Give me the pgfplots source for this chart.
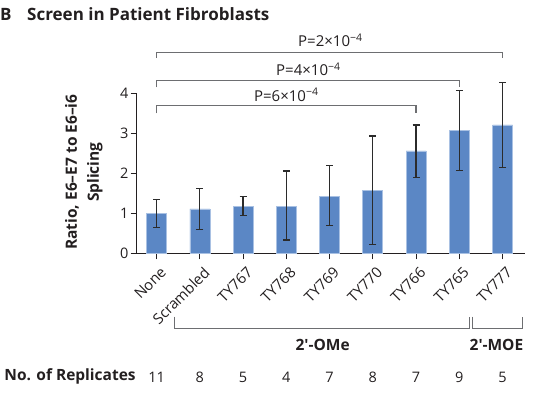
\documentclass[border=0pt]{standalone}
\usepackage{fontspec}
\setmainfont{Open Sans}
\usepackage{pgfplots}
\pgfplotsset{compat=1.18}
\usepackage{pgfplotstable}
\definecolor{barblue}{HTML}{5B87C5}
\definecolor{baredge}{HTML}{A9C1E3}
\definecolor{ink}{HTML}{231F20}
\definecolor{brk}{HTML}{6D6E71}
\definecolor{errc}{HTML}{2B2B2B}

\pgfplotstableread{
x y ep em
0 1.00 0.35 0.35
1 1.11 0.515 0.51
2 1.18 0.245 0.23
3 1.18 0.88 0.85
4 1.43 0.76 0.74
5 1.575 1.355 1.35
6 2.56 0.65 0.67
7 3.07 1.00 0.995
8 3.21 1.06 1.07
}\data

\begin{document}
\begin{tikzpicture}[x=1pt,y=1pt]
\path[use as bounding box] (0,0) rectangle (535,400);
\node[anchor=base west, font=\bfseries\fontsize{17}{20}\selectfont, text=ink, inner sep=0] at (0,379) {B};
\node[anchor=base west, font=\bfseries\fontsize{17}{20}\selectfont, text=ink, inner sep=0] at (27,379) {Screen in Patient Fibroblasts};
\begin{axis}[
  at={(136.7pt,146.7pt)}, anchor=south west,
  scale only axis, width=388.3pt, height=160pt,
  xmin=-0.46, xmax=8.52, ymin=0, ymax=4,
  axis x line=bottom, axis y line=left,
  axis line style={-, ink, line width=1pt},
  tick align=outside, major tick length=6pt,
  tick style={ink, line width=0.8pt},
  xtick={0,...,8},
  xticklabels={None,Scrambled,TY767,TY768,TY769,TY770,TY766,TY765,TY777},
  xticklabel style={xshift=3pt, yshift=-5pt, rotate=45, anchor=north east, font=\fontsize{14.8}{16}\selectfont, text=ink, inner sep=1pt},
  ytick={0,1,2,3,4},
  yticklabel style={font=\fontsize{14.5}{16}\selectfont, text=ink, inner sep=2pt},
  /pgf/number format/assume math mode=true,
  clip=false,
]
\addplot[ybar, bar width=20pt, fill=barblue, draw=baredge, line width=0.6pt,
  error bars/.cd, y dir=both, y explicit,
  error bar style={errc, line width=1.3pt},
  error mark options={errc, line width=1.3pt, mark size=3.5pt, rotate=90}]
  table[x=x, y=y, y error plus=ep, y error minus=em] {\data};

% y label
\node[rotate=90, align=center, text=ink, font=\bfseries\fontsize{15.5}{22}\selectfont] at (axis cs:-1.68,2.03) {Ratio, E6–E7 to E6–i6\\Splicing};

% significance brackets
\draw[brk, line width=1.1pt] (axis cs:0,3.5) -- (axis cs:0,3.7) -- (axis cs:6,3.7) -- (axis cs:6,3.5);
\node[text=ink, font=\fontsize{15}{17}\selectfont] at (axis cs:3.0,3.96) {P=6×10\textsuperscript{−4}};
\draw[brk, line width=1.1pt] (axis cs:0,4.15) -- (axis cs:0,4.325) -- (axis cs:7,4.325) -- (axis cs:7,4.15);
\node[text=ink, font=\fontsize{15}{17}\selectfont] at (axis cs:3.51,4.6) {P=4×10\textsuperscript{−4}};
\draw[brk, line width=1.1pt] (axis cs:0,4.88) -- (axis cs:0,5.03) -- (axis cs:8,5.03) -- (axis cs:8,4.88);
\node[text=ink, font=\fontsize{15}{17}\selectfont] at (axis cs:4.02,5.33) {P=2×10\textsuperscript{−4}};

% group brackets
\draw[brk, line width=1.1pt] (axis cs:0.42,-1.585) -- (axis cs:0.42,-1.875) -- (axis cs:7.24,-1.875) -- (axis cs:7.24,-1.585);
\draw[brk, line width=1.1pt] (axis cs:7.30,-1.585) -- (axis cs:7.30,-1.875) -- (axis cs:8.46,-1.875) -- (axis cs:8.46,-1.585);
\node[text=ink, font=\bfseries\fontsize{15.5}{17}\selectfont] at (axis cs:3.84,-2.29) {2\textquotesingle-OMe};
\node[text=ink, font=\bfseries\fontsize{15.5}{17}\selectfont] at (axis cs:7.86,-2.29) {2\textquotesingle-MOE};

% replicates
\node[text=ink, anchor=east, font=\bfseries\fontsize{15.5}{17}\selectfont, inner sep=0] at (axis cs:-0.48,-3.09) {No. of Replicates};
\node[text=ink, font=\fontsize{14.5}{16}\selectfont] at (axis cs:0,-3.09) {11};
\node[text=ink, font=\fontsize{14.5}{16}\selectfont] at (axis cs:1,-3.09) {8};
\node[text=ink, font=\fontsize{14.5}{16}\selectfont] at (axis cs:2,-3.09) {5};
\node[text=ink, font=\fontsize{14.5}{16}\selectfont] at (axis cs:3,-3.09) {4};
\node[text=ink, font=\fontsize{14.5}{16}\selectfont] at (axis cs:4,-3.09) {7};
\node[text=ink, font=\fontsize{14.5}{16}\selectfont] at (axis cs:5,-3.09) {8};
\node[text=ink, font=\fontsize{14.5}{16}\selectfont] at (axis cs:6,-3.09) {7};
\node[text=ink, font=\fontsize{14.5}{16}\selectfont] at (axis cs:7,-3.09) {9};
\node[text=ink, font=\fontsize{14.5}{16}\selectfont] at (axis cs:8,-3.09) {5};
\end{axis}
\end{tikzpicture}
\end{document}
